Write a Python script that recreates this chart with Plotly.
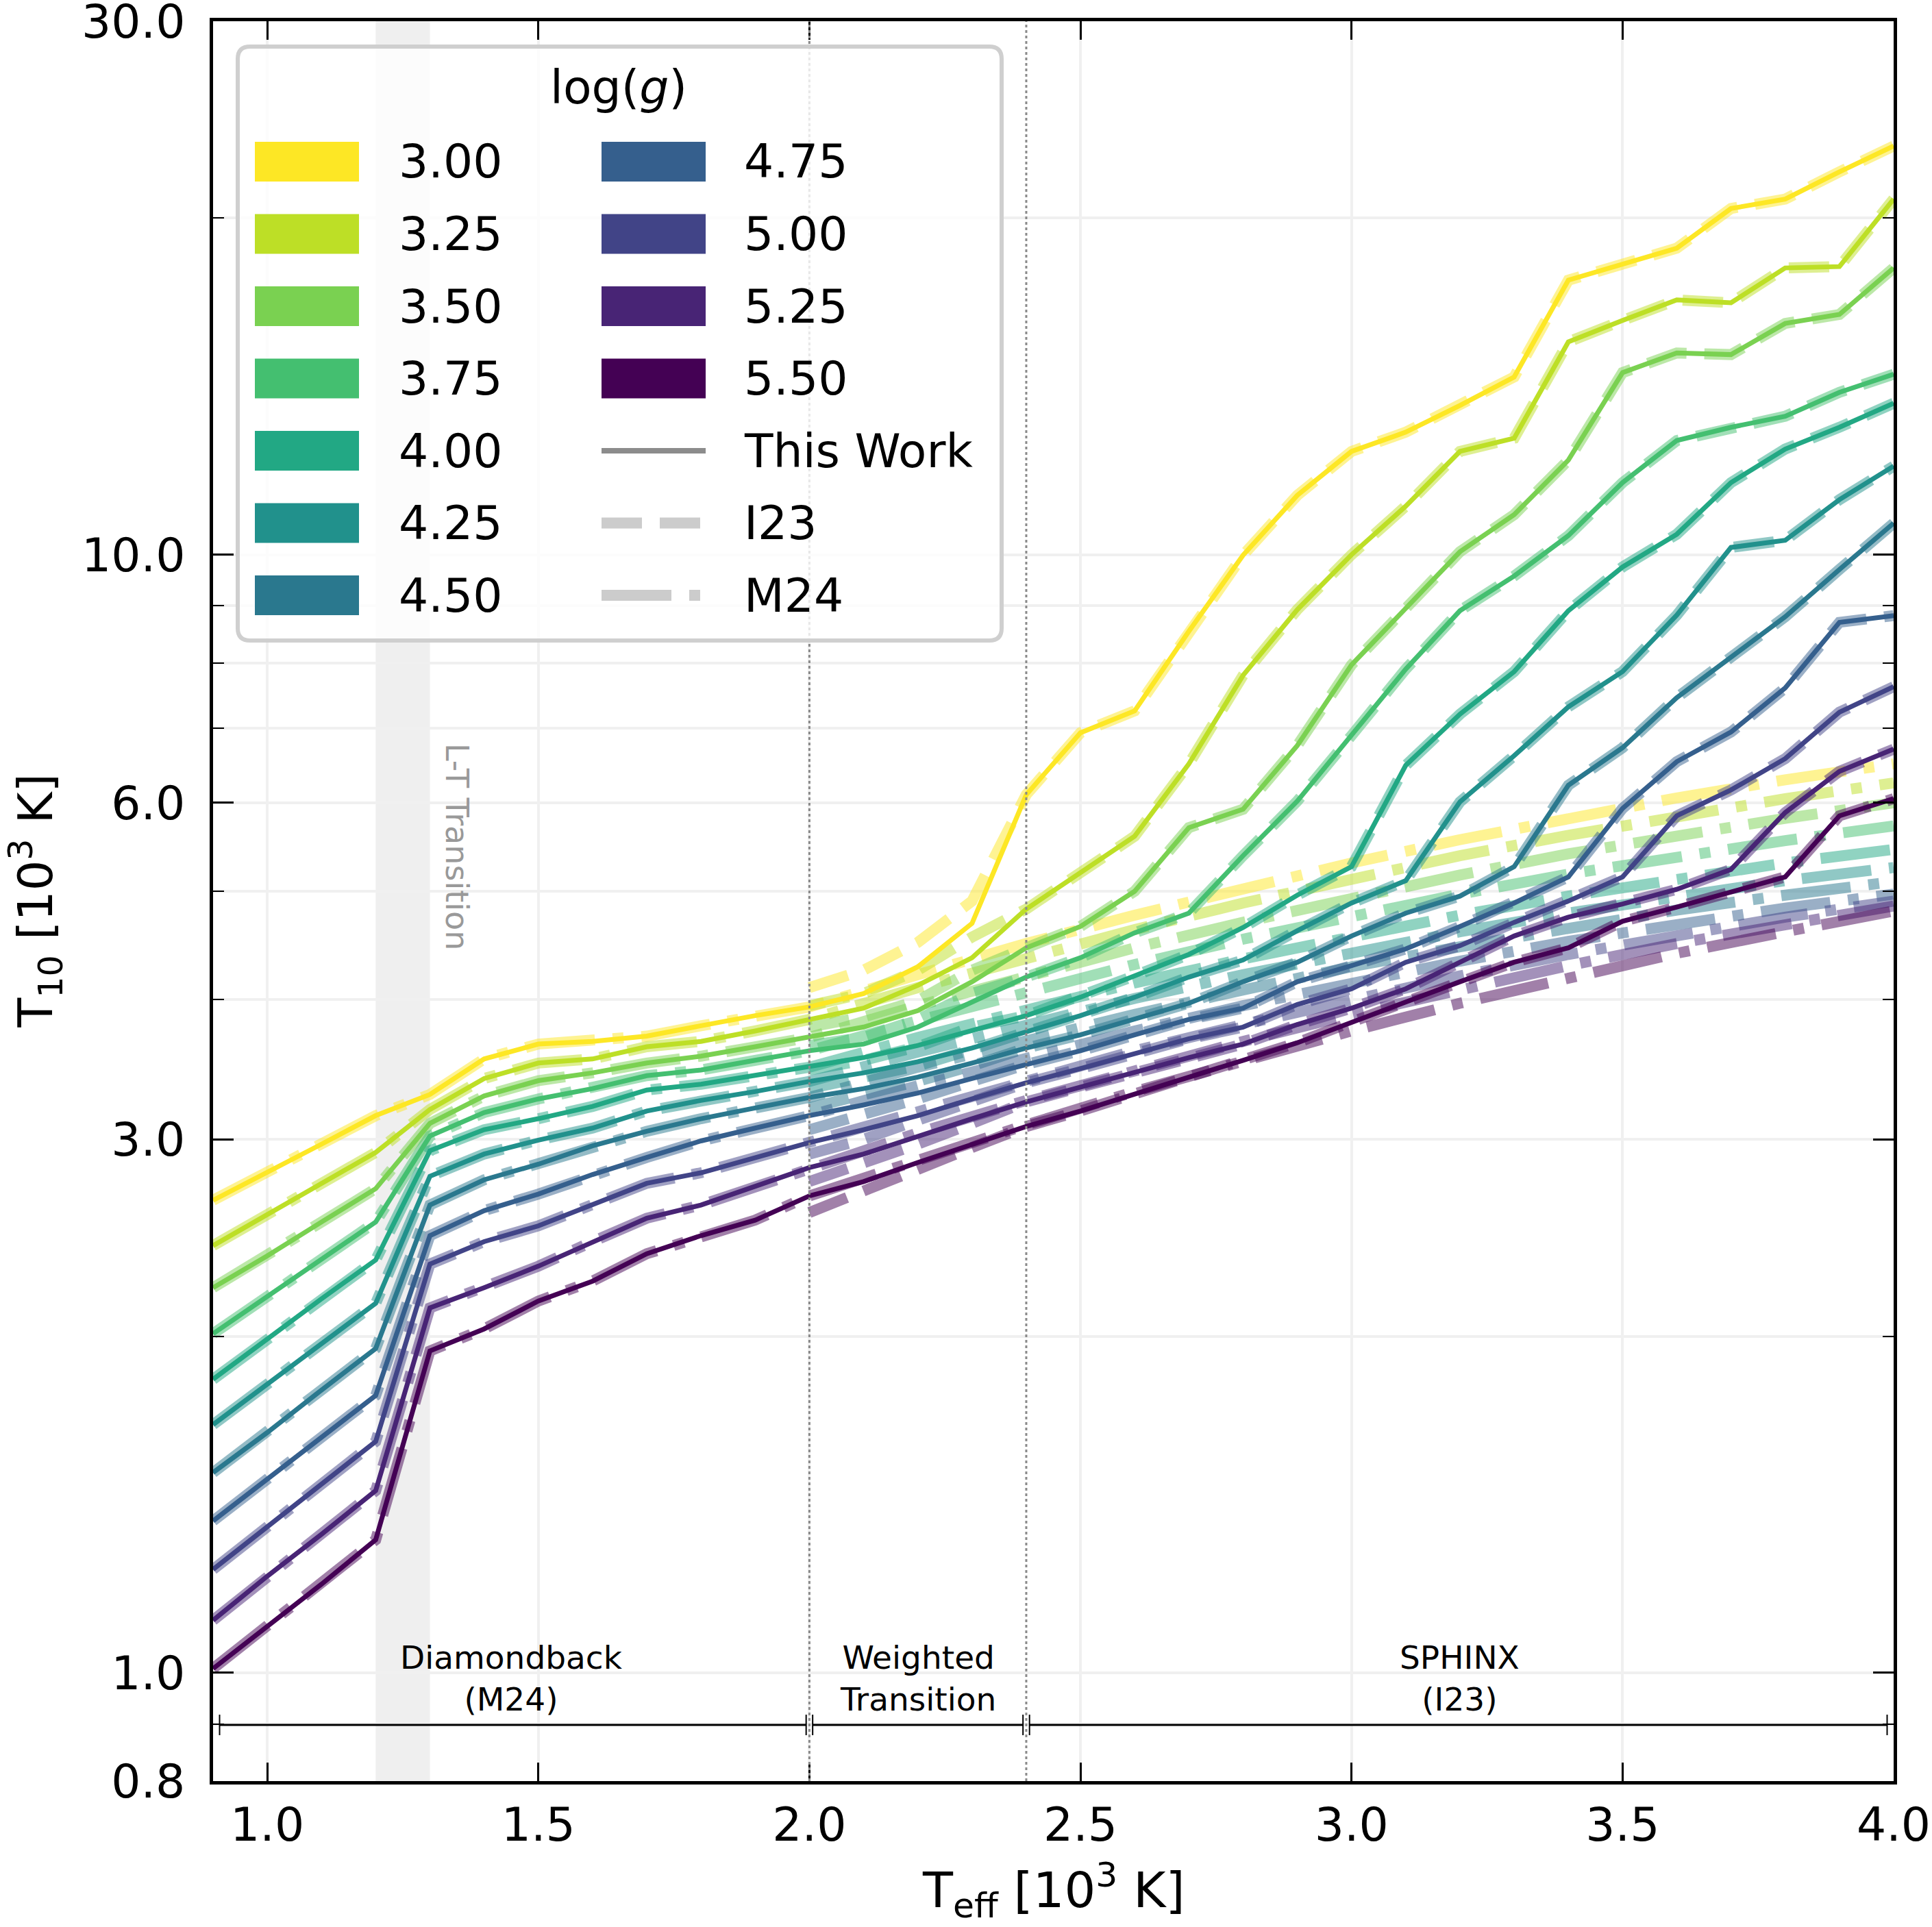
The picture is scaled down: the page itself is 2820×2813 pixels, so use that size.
import math
import plotly.graph_objects as go

# ---------------- data ----------------
teff = [0.9, 1.0, 1.1, 1.2, 1.3, 1.4, 1.5, 1.6, 1.7, 1.8, 1.9, 2.0, 2.1, 2.2, 2.3, 2.4,
        2.5, 2.6, 2.7, 2.8, 2.9, 3.0, 3.1, 3.2, 3.3, 3.4, 3.5, 3.6, 3.7, 3.8, 3.9, 4.0]

logg_labels = ["3.00", "3.25", "3.50", "3.75", "4.00", "4.25", "4.50", "4.75", "5.00", "5.25", "5.50"]
logg_colors = ["#fde725", "#bddf26", "#7ad151", "#44bf70", "#22a884", "#21918c",
               "#2a788e", "#355f8d", "#414487", "#482475", "#440154"]

# "This Work" T10 [10^3 K]
tw_300 = [2.646, 2.80, 2.97, 3.15, 3.29, 3.54, 3.65, 3.67, 3.71, 3.79, 3.87, 3.94, 4.05, 4.28, 4.68, 6.10,
          6.93, 7.25, 8.54, 9.99, 11.3, 12.37, 12.87, 13.6, 14.42, 17.6, 18.2, 18.8, 20.4, 20.8, 22.0, 23.2]
tw_325 = [2.41, 2.57, 2.74, 2.92, 3.19, 3.40, 3.51, 3.54, 3.63, 3.67, 3.75, 3.84, 3.93, 4.12, 4.36, 4.82,
          5.20, 5.60, 6.50, 7.80, 8.93, 10.0, 11.05, 12.37, 12.71, 15.5, 16.2, 16.9, 16.8, 18.05, 18.1, 20.8]
tw_350 = [2.21, 2.36, 2.53, 2.71, 3.10, 3.28, 3.385, 3.44, 3.51, 3.56, 3.63, 3.70, 3.78, 3.91, 4.15, 4.45,
          4.65, 5.00, 5.70, 5.92, 6.75, 7.97, 8.95, 10.06, 10.86, 12.15, 14.55, 15.15, 15.1, 16.1, 16.4, 18.05]
tw_375 = [2.01, 2.17, 2.34, 2.53, 3.02, 3.17, 3.26, 3.33, 3.42, 3.46, 3.53, 3.60, 3.65, 3.78, 3.98, 4.19,
          4.36, 4.59, 4.78, 5.38, 6.02, 6.89, 7.90, 8.91, 9.57, 10.4, 11.6, 12.65, 13.0, 13.3, 13.97, 14.5]
tw_400 = [1.83, 1.99, 2.16, 2.34, 2.93, 3.06, 3.13, 3.21, 3.32, 3.36, 3.42, 3.48, 3.55, 3.64, 3.75, 3.87,
          4.02, 4.20, 4.39, 4.64, 4.96, 5.26, 6.48, 7.20, 7.86, 8.91, 9.75, 10.43, 11.6, 12.43, 13.0, 13.66]
tw_425 = [1.667, 1.81, 1.97, 2.14, 2.78, 2.91, 2.995, 3.07, 3.18, 3.25, 3.31, 3.38, 3.44, 3.52, 3.62, 3.74,
          3.87, 4.02, 4.19, 4.34, 4.61, 4.88, 5.11, 6.01, 6.61, 7.31, 7.86, 8.83, 10.15, 10.3, 11.2, 12.0]
tw_450 = [1.51, 1.64, 1.79, 1.95, 2.62, 2.76, 2.85, 2.96, 3.05, 3.13, 3.20, 3.27, 3.33, 3.41, 3.51, 3.62,
          3.72, 3.84, 3.97, 4.15, 4.32, 4.56, 4.78, 4.95, 5.26, 6.22, 6.72, 7.45, 8.10, 8.80, 9.70, 10.67]
tw_475 = [1.367, 1.49, 1.62, 1.77, 2.46, 2.59, 2.68, 2.79, 2.89, 2.99, 3.07, 3.15, 3.22, 3.30, 3.40, 3.50,
          3.60, 3.72, 3.84, 3.93, 4.15, 4.29, 4.44, 4.65, 4.88, 5.15, 5.93, 6.53, 6.94, 7.60, 8.70, 8.82]
tw_500 = [1.237, 1.35, 1.475, 1.61, 2.32, 2.43, 2.51, 2.62, 2.74, 2.80, 2.89, 2.98, 3.06, 3.15, 3.26, 3.37,
          3.47, 3.58, 3.69, 3.78, 3.96, 4.09, 4.32, 4.47, 4.69, 4.90, 5.15, 5.84, 6.16, 6.57, 7.23, 7.62]
tw_525 = [1.114, 1.22, 1.33, 1.455, 2.12, 2.21, 2.31, 2.43, 2.55, 2.62, 2.72, 2.83, 2.91, 3.02, 3.13, 3.24,
          3.34, 3.44, 3.55, 3.65, 3.80, 3.93, 4.09, 4.32, 4.56, 4.74, 4.87, 5.02, 5.23, 5.88, 6.40, 6.70]
tw_550 = [1.0085, 1.10, 1.20, 1.315, 1.94, 2.03, 2.15, 2.24, 2.37, 2.46, 2.54, 2.67, 2.75, 2.86, 2.97, 3.08,
          3.18, 3.29, 3.41, 3.53, 3.66, 3.82, 3.98, 4.15, 4.32, 4.45, 4.70, 4.84, 4.99, 5.15, 5.84, 6.05]

# I23 (SPHINX) where it departs from This Work, 2.0-2.3 kK; above 2.4 kK it coincides with This Work
i23_teff_low = [2.0, 2.1, 2.2, 2.3]
i23_low_300 = [4.10, 4.25, 4.50, 4.90]
i23_low_325 = [3.95, 4.05, 4.25, 4.55]
i23_low_350 = [3.78, 3.86, 3.99, 4.25]
i23_low_375 = [3.64, 3.70, 3.84, 4.05]
i23_low_400 = [3.46, 3.53, 3.63, 3.78]
i23_low_425 = [3.33, 3.40, 3.49, 3.61]
i23_low_450 = [3.20, 3.28, 3.38, 3.49]
i23_low_475 = [3.06, 3.15, 3.26, 3.38]
i23_low_500 = [2.91, 3.00, 3.12, 3.24]
i23_low_525 = [2.75, 2.85, 2.97, 3.10]
i23_low_550 = [2.58, 2.69, 2.82, 2.95]

# M24 (Diamondback) above 2.0 kK; below 2.0 kK it coincides with This Work
m24_teff_hot = [2.2, 2.4, 2.6, 2.8, 3.0, 3.2, 3.4, 3.6, 3.8, 4.0]
m24_hot_300 = [4.21, 4.49, 4.76, 5.03, 5.30, 5.56, 5.81, 6.06, 6.29, 6.50]
m24_hot_325 = [4.10, 4.36, 4.62, 4.88, 5.13, 5.38, 5.61, 5.84, 6.05, 6.25]
m24_hot_350 = [3.95, 4.20, 4.45, 4.69, 4.93, 5.17, 5.40, 5.61, 5.81, 6.00]
m24_hot_375 = [3.83, 4.07, 4.30, 4.53, 4.75, 4.97, 5.18, 5.37, 5.55, 5.72]
m24_hot_400 = [3.70, 3.92, 4.14, 4.35, 4.56, 4.76, 4.95, 5.13, 5.30, 5.45]
m24_hot_425 = [3.59, 3.80, 4.01, 4.21, 4.41, 4.60, 4.78, 4.95, 5.11, 5.25]
m24_hot_450 = [3.48, 3.68, 3.88, 4.08, 4.28, 4.46, 4.64, 4.81, 4.96, 5.10]
m24_hot_475 = [3.35, 3.55, 3.75, 3.95, 4.14, 4.33, 4.51, 4.67, 4.83, 4.97]
m24_hot_500 = [3.18, 3.39, 3.60, 3.80, 4.00, 4.20, 4.39, 4.57, 4.74, 4.90]
m24_hot_525 = [3.04, 3.25, 3.46, 3.67, 3.88, 4.09, 4.29, 4.49, 4.67, 4.85]
m24_hot_550 = [2.88, 3.09, 3.31, 3.53, 3.75, 3.97, 4.18, 4.40, 4.60, 4.80]

region_edges = [0.9, 2.0, 2.4, 4.0]
region_labels = ["Diamondback<br>(M24)", "Weighted<br>Transition", "SPHINX<br>(I23)"]
lt_band = [1.2, 1.3]

x_tickvals = [1.0, 1.5, 2.0, 2.5, 3.0, 3.5, 4.0]
y_tickvals = [0.8, 1.0, 3.0, 6.0, 10.0, 30.0]
y_minor_tickvals = [0.9, 2, 4, 5, 7, 8, 9, 20]

tw_all = [tw_300, tw_325, tw_350, tw_375, tw_400, tw_425, tw_450, tw_475, tw_500, tw_525, tw_550]
i23_low_all = [i23_low_300, i23_low_325, i23_low_350, i23_low_375, i23_low_400, i23_low_425,
               i23_low_450, i23_low_475, i23_low_500, i23_low_525, i23_low_550]
m24_hot_all = [m24_hot_300, m24_hot_325, m24_hot_350, m24_hot_375, m24_hot_400, m24_hot_425,
               m24_hot_450, m24_hot_475, m24_hot_500, m24_hot_525, m24_hot_550]

# ---------------- layout geometry ----------------
W, H = 2820, 2813
L, R, T, B = 311, 2764, 31, 2600          # plot area in pixels
PW, PH = R - L, B - T
FONT = "DejaVu Sans"


def px(X):
    return (X - L) / PW


def py(Y):
    return (B - Y) / PH


def rgba(hexc, a):
    h = hexc.lstrip("#")
    return "rgba(%d,%d,%d,%.2f)" % (int(h[0:2], 16), int(h[2:4], 16), int(h[4:6], 16), a)


I23_DASH = "59px,26px"
M24_DASH = "102px,26px,16px,26px"

fig = go.Figure()

# translucent model curves
for k, col in enumerate(logg_colors):
    tw = tw_all[k]
    fig.add_trace(go.Scatter(
        x=teff[:12] + m24_teff_hot, y=tw[:12] + m24_hot_all[k], mode="lines",
        line=dict(color=rgba(col, 0.5), width=16, dash=M24_DASH),
        showlegend=False, hoverinfo="skip"))
    fig.add_trace(go.Scatter(
        x=i23_teff_low + teff[15:], y=i23_low_all[k] + tw[15:], mode="lines",
        line=dict(color=rgba(col, 0.5), width=16, dash=I23_DASH),
        showlegend=False, hoverinfo="skip"))

# This Work curves
for k, col in enumerate(logg_colors):
    fig.add_trace(go.Scatter(
        x=teff, y=tw_all[k], mode="lines", line=dict(color=col, width=7),
        name=logg_labels[k], showlegend=False))

shapes = []
annotations = []

# L-T transition band
shapes.append(dict(type="rect", xref="x", yref="paper", x0=lt_band[0], x1=lt_band[1], y0=0, y1=1,
                   fillcolor="#efefef", line=dict(width=0), layer="below"))
# dotted boundaries
for xe in region_edges[1:3]:
    shapes.append(dict(type="line", xref="x", yref="paper", x0=xe, x1=xe, y0=0, y1=1,
                       line=dict(color="#8a8a8a", width=3, dash="4px,4px"), layer="above"))

# region bar with end caps
bar_y = py(2518)
cap = 15 / PH
pad = 0.006
for i in range(3):
    a = region_edges[i] + (0.012 if i == 0 else pad)
    b = region_edges[i + 1] - (0.012 if i == 2 else pad)
    shapes.append(dict(type="line", xref="x", yref="paper", x0=a, x1=b, y0=bar_y, y1=bar_y,
                       line=dict(color="black", width=3)))
    for xc in (a, b):
        shapes.append(dict(type="line", xref="x", yref="paper", x0=xc, x1=xc,
                           y0=bar_y - cap, y1=bar_y + cap, line=dict(color="black", width=2)))
    annotations.append(dict(x=(region_edges[i] + region_edges[i + 1]) / 2, xref="x",
                            y=py(2450), yref="paper", text=region_labels[i], showarrow=False,
                            font=dict(family=FONT, size=47, color="black"),
                            xanchor="center", yanchor="middle", align="center"))

annotations.append(dict(x=1.35, xref="x", y=py(1236), yref="paper", text="L-T Transition",
                        textangle=90, showarrow=False, font=dict(family=FONT, size=46, color="#999999"),
                        xanchor="center", yanchor="middle"))

# ---------------- custom legend ----------------
bx0, bx1, by0, by1 = px(347), px(1462), py(935), py(68)
rx, ry = 18 / PW, 18 / PH
path = (f"M {bx0+rx},{by1} L {bx1-rx},{by1} Q {bx1},{by1} {bx1},{by1-ry} "
        f"L {bx1},{by0+ry} Q {bx1},{by0} {bx1-rx},{by0} L {bx0+rx},{by0} "
        f"Q {bx0},{by0} {bx0},{by0+ry} L {bx0},{by1-ry} Q {bx0},{by1} {bx0+rx},{by1} Z")
shapes.append(dict(type="path", xref="paper", yref="paper", path=path,
                   fillcolor="rgba(255,255,255,0.8)", line=dict(color="#cfcfcf", width=6)))
annotations.append(dict(x=px(903), y=py(128), xref="paper", yref="paper", text="log(<i>g</i>)",
                        showarrow=False, font=dict(family=FONT, size=68, color="black"),
                        xanchor="center", yanchor="middle"))
row_c = [236, 341.5, 447, 552.5, 658, 763.5, 869]
col_patch = [(372, 524), (878, 1030)]
col_text = [580, 1084]
entries = [(logg_labels[k], logg_colors[k]) for k in range(len(logg_labels))]
for k, (lab, col) in enumerate(entries):
    c = 0 if k < 7 else 1
    r = k if k < 7 else k - 7
    yc = row_c[r]
    shapes.append(dict(type="rect", xref="paper", yref="paper",
                       x0=px(col_patch[c][0]), x1=px(col_patch[c][1]),
                       y0=py(yc + 29), y1=py(yc - 29), fillcolor=col, line=dict(width=0)))
    annotations.append(dict(x=px(col_text[c]), y=py(yc), xref="paper", yref="paper", text=lab,
                            showarrow=False, font=dict(family=FONT, size=68, color="black"),
                            xanchor="left", yanchor="middle"))
style_entries = [("This Work", dict(color="#8c8c8c", width=8)),
                 ("I23", dict(color="#cccccc", width=16, dash=I23_DASH)),
                 ("M24", dict(color="#cccccc", width=16, dash=M24_DASH))]
for j, (lab, ln) in enumerate(style_entries):
    yc = row_c[4 + j]
    shapes.append(dict(type="line", xref="paper", yref="paper", x0=px(878), x1=px(1030),
                       y0=py(yc), y1=py(yc), line=ln))
    annotations.append(dict(x=px(1084), y=py(yc), xref="paper", yref="paper", text=lab,
                            showarrow=False, font=dict(family=FONT, size=68, color="black"),
                            xanchor="left", yanchor="middle"))

# axis titles
annotations.append(dict(x=0.5, y=py(2813), xref="paper", yref="paper",
                        text="T<sub>eff</sub> [10<sup>3</sup> K]", showarrow=False,
                        font=dict(family=FONT, size=72, color="black"), xanchor="center", yanchor="bottom"))
annotations.append(dict(x=px(52), y=0.5, xref="paper", yref="paper",
                        text="T<sub>10</sub> [10<sup>3</sup> K]", showarrow=False, textangle=-90,
                        font=dict(family=FONT, size=70, color="black"), xanchor="center", yanchor="middle"))

fig.update_layout(
    width=W, height=H,
    margin=dict(l=L, r=W - R, t=T, b=H - B, autoexpand=False),
    paper_bgcolor="white", plot_bgcolor="white",
    font=dict(family=FONT, color="black"),
    shapes=shapes, annotations=annotations, showlegend=False,
    xaxis=dict(range=[0.9, 4.0], tickvals=x_tickvals, ticktext=["%.1f" % v for v in x_tickvals],
               ticks="inside", ticklen=27, tickwidth=3, tickcolor="black",
               showline=True, linewidth=5, linecolor="black", mirror="allticks",
               showgrid=True, gridcolor="#f0f0f0", gridwidth=4, zeroline=False,
               tickfont=dict(family=FONT, size=68, color="black"), ticklabelstandoff=0,
               ticklabeloverflow="allow", automargin=False),
    yaxis=dict(type="log", range=[math.log10(0.8) - 1e-6, math.log10(30) + 1e-6],
               tickvals=y_tickvals, ticktext=["%.1f" % v for v in y_tickvals],
               ticks="inside", ticklen=30, tickwidth=3, tickcolor="black",
               showline=True, linewidth=5, linecolor="black", mirror="allticks",
               showgrid=True, gridcolor="#f0f0f0", gridwidth=4, zeroline=False,
               minor=dict(tickvals=y_minor_tickvals, ticks="inside", ticklen=16, tickwidth=2,
                          tickcolor="black", showgrid=True, gridcolor="#f0f0f0", gridwidth=4),
               tickfont=dict(family=FONT, size=68, color="black"), ticklabelstandoff=22,
               ticklabeloverflow="allow", automargin=False),
)

fig.write_html("out.html")
